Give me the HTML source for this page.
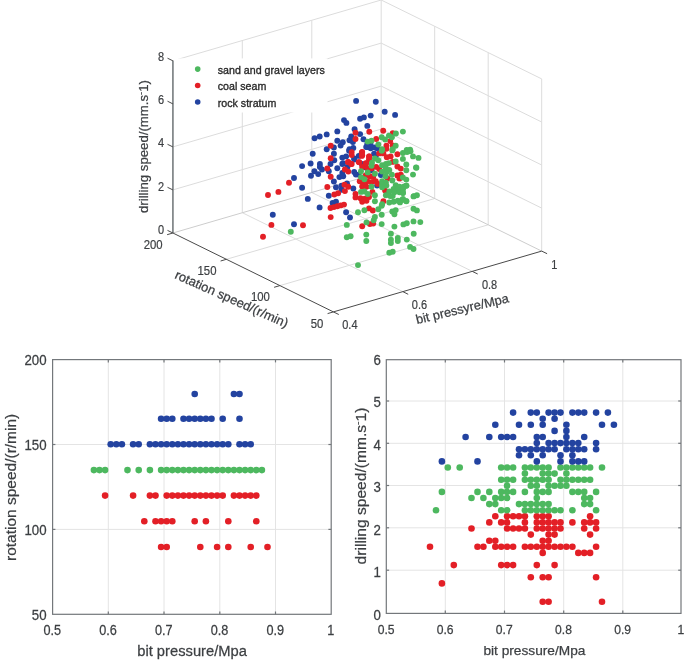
<!DOCTYPE html>
<html><head><meta charset="utf-8"><title>figure</title>
<style>html,body{margin:0;padding:0;background:#fff}svg{display:block}text{font-family:"Liberation Sans",sans-serif}</style>
</head><body>
<svg width="685" height="660" viewBox="0 0 685 660">
<rect width="685" height="660" fill="#ffffff"/>
<line x1="108.3" y1="359.6" x2="108.3" y2="614.3" stroke="#e4e4e4" stroke-width="1"/>
<line x1="164.0" y1="359.6" x2="164.0" y2="614.3" stroke="#e4e4e4" stroke-width="1"/>
<line x1="219.8" y1="359.6" x2="219.8" y2="614.3" stroke="#e4e4e4" stroke-width="1"/>
<line x1="275.5" y1="359.6" x2="275.5" y2="614.3" stroke="#e4e4e4" stroke-width="1"/>
<line x1="52.6" y1="529.4" x2="331.2" y2="529.4" stroke="#e4e4e4" stroke-width="1"/>
<line x1="52.6" y1="444.5" x2="331.2" y2="444.5" stroke="#e4e4e4" stroke-width="1"/>
<circle cx="194.7" cy="394.0" r="3.3" fill="#2343a0"/>
<circle cx="233.9" cy="394.0" r="3.3" fill="#2343a0"/>
<circle cx="239.5" cy="394.0" r="3.3" fill="#2343a0"/>
<circle cx="161.1" cy="418.8" r="3.3" fill="#2343a0"/>
<circle cx="166.7" cy="418.8" r="3.3" fill="#2343a0"/>
<circle cx="172.3" cy="418.8" r="3.3" fill="#2343a0"/>
<circle cx="183.5" cy="418.8" r="3.3" fill="#2343a0"/>
<circle cx="189.1" cy="418.8" r="3.3" fill="#2343a0"/>
<circle cx="194.7" cy="418.8" r="3.3" fill="#2343a0"/>
<circle cx="200.3" cy="418.8" r="3.3" fill="#2343a0"/>
<circle cx="205.9" cy="418.8" r="3.3" fill="#2343a0"/>
<circle cx="211.5" cy="418.8" r="3.3" fill="#2343a0"/>
<circle cx="222.7" cy="418.8" r="3.3" fill="#2343a0"/>
<circle cx="239.5" cy="418.8" r="3.3" fill="#2343a0"/>
<circle cx="110.7" cy="444.3" r="3.3" fill="#2343a0"/>
<circle cx="116.3" cy="444.3" r="3.3" fill="#2343a0"/>
<circle cx="121.9" cy="444.3" r="3.3" fill="#2343a0"/>
<circle cx="133.1" cy="444.3" r="3.3" fill="#2343a0"/>
<circle cx="138.7" cy="444.3" r="3.3" fill="#2343a0"/>
<circle cx="149.9" cy="444.3" r="3.3" fill="#2343a0"/>
<circle cx="155.5" cy="444.3" r="3.3" fill="#2343a0"/>
<circle cx="161.1" cy="444.3" r="3.3" fill="#2343a0"/>
<circle cx="166.7" cy="444.3" r="3.3" fill="#2343a0"/>
<circle cx="172.3" cy="444.3" r="3.3" fill="#2343a0"/>
<circle cx="177.9" cy="444.3" r="3.3" fill="#2343a0"/>
<circle cx="183.5" cy="444.3" r="3.3" fill="#2343a0"/>
<circle cx="189.1" cy="444.3" r="3.3" fill="#2343a0"/>
<circle cx="194.7" cy="444.3" r="3.3" fill="#2343a0"/>
<circle cx="200.3" cy="444.3" r="3.3" fill="#2343a0"/>
<circle cx="205.9" cy="444.3" r="3.3" fill="#2343a0"/>
<circle cx="211.5" cy="444.3" r="3.3" fill="#2343a0"/>
<circle cx="217.1" cy="444.3" r="3.3" fill="#2343a0"/>
<circle cx="222.7" cy="444.3" r="3.3" fill="#2343a0"/>
<circle cx="228.3" cy="444.3" r="3.3" fill="#2343a0"/>
<circle cx="239.5" cy="444.3" r="3.3" fill="#2343a0"/>
<circle cx="245.1" cy="444.3" r="3.3" fill="#2343a0"/>
<circle cx="250.7" cy="444.3" r="3.3" fill="#2343a0"/>
<circle cx="93.9" cy="470.1" r="3.3" fill="#4db85f"/>
<circle cx="99.5" cy="470.1" r="3.3" fill="#4db85f"/>
<circle cx="105.1" cy="470.1" r="3.3" fill="#4db85f"/>
<circle cx="127.5" cy="470.1" r="3.3" fill="#4db85f"/>
<circle cx="138.7" cy="470.1" r="3.3" fill="#4db85f"/>
<circle cx="149.9" cy="470.1" r="3.3" fill="#4db85f"/>
<circle cx="161.1" cy="470.1" r="3.3" fill="#4db85f"/>
<circle cx="166.7" cy="470.1" r="3.3" fill="#4db85f"/>
<circle cx="172.3" cy="470.1" r="3.3" fill="#4db85f"/>
<circle cx="177.9" cy="470.1" r="3.3" fill="#4db85f"/>
<circle cx="183.5" cy="470.1" r="3.3" fill="#4db85f"/>
<circle cx="189.1" cy="470.1" r="3.3" fill="#4db85f"/>
<circle cx="194.7" cy="470.1" r="3.3" fill="#4db85f"/>
<circle cx="200.3" cy="470.1" r="3.3" fill="#4db85f"/>
<circle cx="205.9" cy="470.1" r="3.3" fill="#4db85f"/>
<circle cx="211.5" cy="470.1" r="3.3" fill="#4db85f"/>
<circle cx="217.1" cy="470.1" r="3.3" fill="#4db85f"/>
<circle cx="222.7" cy="470.1" r="3.3" fill="#4db85f"/>
<circle cx="228.3" cy="470.1" r="3.3" fill="#4db85f"/>
<circle cx="233.9" cy="470.1" r="3.3" fill="#4db85f"/>
<circle cx="239.5" cy="470.1" r="3.3" fill="#4db85f"/>
<circle cx="245.1" cy="470.1" r="3.3" fill="#4db85f"/>
<circle cx="250.7" cy="470.1" r="3.3" fill="#4db85f"/>
<circle cx="256.3" cy="470.1" r="3.3" fill="#4db85f"/>
<circle cx="261.9" cy="470.1" r="3.3" fill="#4db85f"/>
<circle cx="105.1" cy="495.6" r="3.3" fill="#e31f26"/>
<circle cx="133.1" cy="495.6" r="3.3" fill="#e31f26"/>
<circle cx="149.9" cy="495.6" r="3.3" fill="#e31f26"/>
<circle cx="155.5" cy="495.6" r="3.3" fill="#e31f26"/>
<circle cx="166.7" cy="495.6" r="3.3" fill="#e31f26"/>
<circle cx="172.3" cy="495.6" r="3.3" fill="#e31f26"/>
<circle cx="177.9" cy="495.6" r="3.3" fill="#e31f26"/>
<circle cx="183.5" cy="495.6" r="3.3" fill="#e31f26"/>
<circle cx="189.1" cy="495.6" r="3.3" fill="#e31f26"/>
<circle cx="194.7" cy="495.6" r="3.3" fill="#e31f26"/>
<circle cx="200.3" cy="495.6" r="3.3" fill="#e31f26"/>
<circle cx="205.9" cy="495.6" r="3.3" fill="#e31f26"/>
<circle cx="211.5" cy="495.6" r="3.3" fill="#e31f26"/>
<circle cx="217.1" cy="495.6" r="3.3" fill="#e31f26"/>
<circle cx="222.7" cy="495.6" r="3.3" fill="#e31f26"/>
<circle cx="233.9" cy="495.6" r="3.3" fill="#e31f26"/>
<circle cx="239.5" cy="495.6" r="3.3" fill="#e31f26"/>
<circle cx="245.1" cy="495.6" r="3.3" fill="#e31f26"/>
<circle cx="250.7" cy="495.6" r="3.3" fill="#e31f26"/>
<circle cx="256.3" cy="495.6" r="3.3" fill="#e31f26"/>
<circle cx="144.3" cy="521.2" r="3.3" fill="#e31f26"/>
<circle cx="155.5" cy="521.2" r="3.3" fill="#e31f26"/>
<circle cx="161.1" cy="521.2" r="3.3" fill="#e31f26"/>
<circle cx="166.7" cy="521.2" r="3.3" fill="#e31f26"/>
<circle cx="172.3" cy="521.2" r="3.3" fill="#e31f26"/>
<circle cx="194.7" cy="521.2" r="3.3" fill="#e31f26"/>
<circle cx="205.9" cy="521.2" r="3.3" fill="#e31f26"/>
<circle cx="228.3" cy="521.2" r="3.3" fill="#e31f26"/>
<circle cx="256.3" cy="521.2" r="3.3" fill="#e31f26"/>
<circle cx="161.1" cy="547.0" r="3.3" fill="#e31f26"/>
<circle cx="166.7" cy="547.0" r="3.3" fill="#e31f26"/>
<circle cx="200.3" cy="547.0" r="3.3" fill="#e31f26"/>
<circle cx="217.1" cy="547.0" r="3.3" fill="#e31f26"/>
<circle cx="228.3" cy="547.0" r="3.3" fill="#e31f26"/>
<circle cx="250.7" cy="547.0" r="3.3" fill="#e31f26"/>
<circle cx="267.5" cy="547.0" r="3.3" fill="#e31f26"/>
<rect x="52.6" y="359.6" width="278.6" height="254.7" fill="none" stroke="#73777b" stroke-width="1.2"/>
<line x1="108.3" y1="614.3" x2="108.3" y2="611.5" stroke="#73777b" stroke-width="1.2"/>
<line x1="108.3" y1="359.6" x2="108.3" y2="362.40000000000003" stroke="#73777b" stroke-width="1.2"/>
<line x1="164.0" y1="614.3" x2="164.0" y2="611.5" stroke="#73777b" stroke-width="1.2"/>
<line x1="164.0" y1="359.6" x2="164.0" y2="362.40000000000003" stroke="#73777b" stroke-width="1.2"/>
<line x1="219.8" y1="614.3" x2="219.8" y2="611.5" stroke="#73777b" stroke-width="1.2"/>
<line x1="219.8" y1="359.6" x2="219.8" y2="362.40000000000003" stroke="#73777b" stroke-width="1.2"/>
<line x1="275.5" y1="614.3" x2="275.5" y2="611.5" stroke="#73777b" stroke-width="1.2"/>
<line x1="275.5" y1="359.6" x2="275.5" y2="362.40000000000003" stroke="#73777b" stroke-width="1.2"/>
<line x1="52.6" y1="529.4" x2="55.4" y2="529.4" stroke="#73777b" stroke-width="1.2"/>
<line x1="331.2" y1="529.4" x2="328.4" y2="529.4" stroke="#73777b" stroke-width="1.2"/>
<line x1="52.6" y1="444.5" x2="55.4" y2="444.5" stroke="#73777b" stroke-width="1.2"/>
<line x1="331.2" y1="444.5" x2="328.4" y2="444.5" stroke="#73777b" stroke-width="1.2"/>
<text transform="translate(52.3,634.6) scale(0.92,1)" font-size="13.8" text-anchor="middle" fill="#3c3f42" stroke="#3c3f42" stroke-width="0.25">0.5</text>
<text transform="translate(108.0,634.6) scale(0.92,1)" font-size="13.8" text-anchor="middle" fill="#3c3f42" stroke="#3c3f42" stroke-width="0.25">0.6</text>
<text transform="translate(163.7,634.6) scale(0.92,1)" font-size="13.8" text-anchor="middle" fill="#3c3f42" stroke="#3c3f42" stroke-width="0.25">0.7</text>
<text transform="translate(219.5,634.6) scale(0.92,1)" font-size="13.8" text-anchor="middle" fill="#3c3f42" stroke="#3c3f42" stroke-width="0.25">0.8</text>
<text transform="translate(275.2,634.6) scale(0.92,1)" font-size="13.8" text-anchor="middle" fill="#3c3f42" stroke="#3c3f42" stroke-width="0.25">0.9</text>
<text transform="translate(330.9,634.6) scale(0.92,1)" font-size="13.8" text-anchor="middle" fill="#3c3f42" stroke="#3c3f42" stroke-width="0.25">1</text>
<text transform="translate(46.5,619.8) scale(0.96,1)" font-size="13.8" text-anchor="end" fill="#3c3f42" stroke="#3c3f42" stroke-width="0.25">50</text>
<text transform="translate(46.5,534.9) scale(0.96,1)" font-size="13.8" text-anchor="end" fill="#3c3f42" stroke="#3c3f42" stroke-width="0.25">100</text>
<text transform="translate(46.5,450.0) scale(0.96,1)" font-size="13.8" text-anchor="end" fill="#3c3f42" stroke="#3c3f42" stroke-width="0.25">150</text>
<text transform="translate(46.5,365.1) scale(0.96,1)" font-size="13.8" text-anchor="end" fill="#3c3f42" stroke="#3c3f42" stroke-width="0.25">200</text>
<text transform="translate(192.1,655.9) scale(0.964,1)" font-size="15.3" text-anchor="middle" fill="#3c3f42" stroke="#3c3f42" stroke-width="0.25">bit pressure/Mpa</text>
<text transform="translate(16.2,487.4) rotate(-90) scale(1,0.9)" font-size="15.5" text-anchor="middle" fill="#3c3f42" stroke="#3c3f42" stroke-width="0.25">rotation speed/(r/min)</text>
<line x1="445.3" y1="359.7" x2="445.3" y2="613.4" stroke="#e4e4e4" stroke-width="1"/>
<line x1="504.5" y1="359.7" x2="504.5" y2="613.4" stroke="#e4e4e4" stroke-width="1"/>
<line x1="563.7" y1="359.7" x2="563.7" y2="613.4" stroke="#e4e4e4" stroke-width="1"/>
<line x1="622.8" y1="359.7" x2="622.8" y2="613.4" stroke="#e4e4e4" stroke-width="1"/>
<line x1="386.3" y1="570.2" x2="681.0" y2="570.2" stroke="#e4e4e4" stroke-width="1"/>
<line x1="386.3" y1="527.8" x2="681.0" y2="527.8" stroke="#e4e4e4" stroke-width="1"/>
<line x1="386.3" y1="485.5" x2="681.0" y2="485.5" stroke="#e4e4e4" stroke-width="1"/>
<line x1="386.3" y1="443.3" x2="681.0" y2="443.3" stroke="#e4e4e4" stroke-width="1"/>
<line x1="386.3" y1="401.0" x2="681.0" y2="401.0" stroke="#e4e4e4" stroke-width="1"/>
<circle cx="542.7" cy="601.7" r="3.3" fill="#e31f26"/>
<circle cx="548.6" cy="601.7" r="3.3" fill="#e31f26"/>
<circle cx="602.0" cy="601.7" r="3.3" fill="#e31f26"/>
<circle cx="441.9" cy="583.4" r="3.3" fill="#e31f26"/>
<circle cx="530.8" cy="577.3" r="3.3" fill="#e31f26"/>
<circle cx="542.7" cy="577.3" r="3.3" fill="#e31f26"/>
<circle cx="548.6" cy="577.3" r="3.3" fill="#e31f26"/>
<circle cx="596.1" cy="577.3" r="3.3" fill="#e31f26"/>
<circle cx="453.8" cy="565.1" r="3.3" fill="#e31f26"/>
<circle cx="501.2" cy="565.1" r="3.3" fill="#e31f26"/>
<circle cx="507.1" cy="565.1" r="3.3" fill="#e31f26"/>
<circle cx="513.1" cy="565.1" r="3.3" fill="#e31f26"/>
<circle cx="536.8" cy="565.1" r="3.3" fill="#e31f26"/>
<circle cx="554.6" cy="565.1" r="3.3" fill="#e31f26"/>
<circle cx="542.7" cy="552.9" r="3.3" fill="#e31f26"/>
<circle cx="578.3" cy="552.9" r="3.3" fill="#e31f26"/>
<circle cx="584.2" cy="552.9" r="3.3" fill="#e31f26"/>
<circle cx="590.1" cy="552.9" r="3.3" fill="#e31f26"/>
<circle cx="430.0" cy="546.8" r="3.3" fill="#e31f26"/>
<circle cx="477.5" cy="546.8" r="3.3" fill="#e31f26"/>
<circle cx="483.4" cy="546.8" r="3.3" fill="#e31f26"/>
<circle cx="495.3" cy="546.8" r="3.3" fill="#e31f26"/>
<circle cx="501.2" cy="546.8" r="3.3" fill="#e31f26"/>
<circle cx="507.1" cy="546.8" r="3.3" fill="#e31f26"/>
<circle cx="513.1" cy="546.8" r="3.3" fill="#e31f26"/>
<circle cx="524.9" cy="546.8" r="3.3" fill="#e31f26"/>
<circle cx="530.8" cy="546.8" r="3.3" fill="#e31f26"/>
<circle cx="536.8" cy="546.8" r="3.3" fill="#e31f26"/>
<circle cx="542.7" cy="546.8" r="3.3" fill="#e31f26"/>
<circle cx="548.6" cy="546.8" r="3.3" fill="#e31f26"/>
<circle cx="554.6" cy="546.8" r="3.3" fill="#e31f26"/>
<circle cx="560.5" cy="546.8" r="3.3" fill="#e31f26"/>
<circle cx="566.4" cy="546.8" r="3.3" fill="#e31f26"/>
<circle cx="572.4" cy="546.8" r="3.3" fill="#e31f26"/>
<circle cx="596.1" cy="546.8" r="3.3" fill="#e31f26"/>
<circle cx="489.3" cy="540.7" r="3.3" fill="#e31f26"/>
<circle cx="495.3" cy="540.7" r="3.3" fill="#e31f26"/>
<circle cx="542.7" cy="540.7" r="3.3" fill="#e31f26"/>
<circle cx="548.6" cy="540.7" r="3.3" fill="#e31f26"/>
<circle cx="530.8" cy="534.6" r="3.3" fill="#e31f26"/>
<circle cx="548.6" cy="534.6" r="3.3" fill="#e31f26"/>
<circle cx="554.6" cy="534.6" r="3.3" fill="#e31f26"/>
<circle cx="590.1" cy="534.6" r="3.3" fill="#e31f26"/>
<circle cx="471.5" cy="528.5" r="3.3" fill="#e31f26"/>
<circle cx="507.1" cy="528.5" r="3.3" fill="#e31f26"/>
<circle cx="513.1" cy="528.5" r="3.3" fill="#e31f26"/>
<circle cx="519.0" cy="528.5" r="3.3" fill="#e31f26"/>
<circle cx="524.9" cy="528.5" r="3.3" fill="#e31f26"/>
<circle cx="536.8" cy="528.5" r="3.3" fill="#e31f26"/>
<circle cx="542.7" cy="528.5" r="3.3" fill="#e31f26"/>
<circle cx="548.6" cy="528.5" r="3.3" fill="#e31f26"/>
<circle cx="554.6" cy="528.5" r="3.3" fill="#e31f26"/>
<circle cx="560.5" cy="528.5" r="3.3" fill="#e31f26"/>
<circle cx="584.2" cy="528.5" r="3.3" fill="#e31f26"/>
<circle cx="596.1" cy="528.5" r="3.3" fill="#e31f26"/>
<circle cx="489.3" cy="522.4" r="3.3" fill="#e31f26"/>
<circle cx="501.2" cy="522.4" r="3.3" fill="#e31f26"/>
<circle cx="507.1" cy="522.4" r="3.3" fill="#e31f26"/>
<circle cx="524.9" cy="522.4" r="3.3" fill="#e31f26"/>
<circle cx="536.8" cy="522.4" r="3.3" fill="#e31f26"/>
<circle cx="542.7" cy="522.4" r="3.3" fill="#e31f26"/>
<circle cx="548.6" cy="522.4" r="3.3" fill="#e31f26"/>
<circle cx="554.6" cy="522.4" r="3.3" fill="#e31f26"/>
<circle cx="560.5" cy="522.4" r="3.3" fill="#e31f26"/>
<circle cx="572.4" cy="522.4" r="3.3" fill="#e31f26"/>
<circle cx="584.2" cy="522.4" r="3.3" fill="#e31f26"/>
<circle cx="590.1" cy="522.4" r="3.3" fill="#e31f26"/>
<circle cx="596.1" cy="522.4" r="3.3" fill="#e31f26"/>
<circle cx="495.3" cy="516.3" r="3.3" fill="#e31f26"/>
<circle cx="507.1" cy="516.3" r="3.3" fill="#e31f26"/>
<circle cx="513.1" cy="516.3" r="3.3" fill="#e31f26"/>
<circle cx="519.0" cy="516.3" r="3.3" fill="#e31f26"/>
<circle cx="524.9" cy="516.3" r="3.3" fill="#e31f26"/>
<circle cx="536.8" cy="516.3" r="3.3" fill="#e31f26"/>
<circle cx="542.7" cy="516.3" r="3.3" fill="#e31f26"/>
<circle cx="548.6" cy="516.3" r="3.3" fill="#e31f26"/>
<circle cx="590.1" cy="516.3" r="3.3" fill="#e31f26"/>
<circle cx="436.0" cy="510.2" r="3.3" fill="#4db85f"/>
<circle cx="501.2" cy="510.2" r="3.3" fill="#4db85f"/>
<circle cx="507.1" cy="510.2" r="3.3" fill="#4db85f"/>
<circle cx="524.9" cy="510.2" r="3.3" fill="#4db85f"/>
<circle cx="530.8" cy="510.2" r="3.3" fill="#4db85f"/>
<circle cx="536.8" cy="510.2" r="3.3" fill="#4db85f"/>
<circle cx="542.7" cy="510.2" r="3.3" fill="#4db85f"/>
<circle cx="548.6" cy="510.2" r="3.3" fill="#4db85f"/>
<circle cx="554.6" cy="510.2" r="3.3" fill="#4db85f"/>
<circle cx="560.5" cy="510.2" r="3.3" fill="#4db85f"/>
<circle cx="572.4" cy="510.2" r="3.3" fill="#4db85f"/>
<circle cx="596.1" cy="510.2" r="3.3" fill="#4db85f"/>
<circle cx="489.3" cy="504.1" r="3.3" fill="#4db85f"/>
<circle cx="495.3" cy="504.1" r="3.3" fill="#4db85f"/>
<circle cx="519.0" cy="504.1" r="3.3" fill="#4db85f"/>
<circle cx="524.9" cy="504.1" r="3.3" fill="#4db85f"/>
<circle cx="530.8" cy="504.1" r="3.3" fill="#4db85f"/>
<circle cx="536.8" cy="504.1" r="3.3" fill="#4db85f"/>
<circle cx="542.7" cy="504.1" r="3.3" fill="#4db85f"/>
<circle cx="548.6" cy="504.1" r="3.3" fill="#4db85f"/>
<circle cx="584.2" cy="504.1" r="3.3" fill="#4db85f"/>
<circle cx="590.1" cy="504.1" r="3.3" fill="#4db85f"/>
<circle cx="471.5" cy="498.0" r="3.3" fill="#4db85f"/>
<circle cx="483.4" cy="498.0" r="3.3" fill="#4db85f"/>
<circle cx="495.3" cy="498.0" r="3.3" fill="#4db85f"/>
<circle cx="501.2" cy="498.0" r="3.3" fill="#4db85f"/>
<circle cx="507.1" cy="498.0" r="3.3" fill="#4db85f"/>
<circle cx="536.8" cy="498.0" r="3.3" fill="#4db85f"/>
<circle cx="584.2" cy="498.0" r="3.3" fill="#4db85f"/>
<circle cx="590.1" cy="498.0" r="3.3" fill="#4db85f"/>
<circle cx="441.9" cy="491.9" r="3.3" fill="#4db85f"/>
<circle cx="477.5" cy="491.9" r="3.3" fill="#4db85f"/>
<circle cx="489.3" cy="491.9" r="3.3" fill="#4db85f"/>
<circle cx="501.2" cy="491.9" r="3.3" fill="#4db85f"/>
<circle cx="507.1" cy="491.9" r="3.3" fill="#4db85f"/>
<circle cx="513.1" cy="491.9" r="3.3" fill="#4db85f"/>
<circle cx="524.9" cy="491.9" r="3.3" fill="#4db85f"/>
<circle cx="536.8" cy="491.9" r="3.3" fill="#4db85f"/>
<circle cx="542.7" cy="491.9" r="3.3" fill="#4db85f"/>
<circle cx="548.6" cy="491.9" r="3.3" fill="#4db85f"/>
<circle cx="572.4" cy="491.9" r="3.3" fill="#4db85f"/>
<circle cx="578.3" cy="491.9" r="3.3" fill="#4db85f"/>
<circle cx="584.2" cy="491.9" r="3.3" fill="#4db85f"/>
<circle cx="596.1" cy="491.9" r="3.3" fill="#4db85f"/>
<circle cx="507.1" cy="485.8" r="3.3" fill="#4db85f"/>
<circle cx="530.8" cy="485.8" r="3.3" fill="#4db85f"/>
<circle cx="536.8" cy="485.8" r="3.3" fill="#4db85f"/>
<circle cx="548.6" cy="485.8" r="3.3" fill="#4db85f"/>
<circle cx="554.6" cy="485.8" r="3.3" fill="#4db85f"/>
<circle cx="560.5" cy="485.8" r="3.3" fill="#4db85f"/>
<circle cx="566.4" cy="485.8" r="3.3" fill="#4db85f"/>
<circle cx="501.2" cy="479.7" r="3.3" fill="#4db85f"/>
<circle cx="507.1" cy="479.7" r="3.3" fill="#4db85f"/>
<circle cx="513.1" cy="479.7" r="3.3" fill="#4db85f"/>
<circle cx="524.9" cy="479.7" r="3.3" fill="#4db85f"/>
<circle cx="530.8" cy="479.7" r="3.3" fill="#4db85f"/>
<circle cx="536.8" cy="479.7" r="3.3" fill="#4db85f"/>
<circle cx="542.7" cy="479.7" r="3.3" fill="#4db85f"/>
<circle cx="548.6" cy="479.7" r="3.3" fill="#4db85f"/>
<circle cx="560.5" cy="479.7" r="3.3" fill="#4db85f"/>
<circle cx="566.4" cy="479.7" r="3.3" fill="#4db85f"/>
<circle cx="572.4" cy="479.7" r="3.3" fill="#4db85f"/>
<circle cx="578.3" cy="479.7" r="3.3" fill="#4db85f"/>
<circle cx="584.2" cy="479.7" r="3.3" fill="#4db85f"/>
<circle cx="590.1" cy="479.7" r="3.3" fill="#4db85f"/>
<circle cx="524.9" cy="473.6" r="3.3" fill="#4db85f"/>
<circle cx="542.7" cy="473.6" r="3.3" fill="#4db85f"/>
<circle cx="548.6" cy="473.6" r="3.3" fill="#4db85f"/>
<circle cx="554.6" cy="473.6" r="3.3" fill="#4db85f"/>
<circle cx="566.4" cy="473.6" r="3.3" fill="#4db85f"/>
<circle cx="447.8" cy="467.5" r="3.3" fill="#4db85f"/>
<circle cx="459.7" cy="467.5" r="3.3" fill="#4db85f"/>
<circle cx="501.2" cy="467.5" r="3.3" fill="#4db85f"/>
<circle cx="507.1" cy="467.5" r="3.3" fill="#4db85f"/>
<circle cx="513.1" cy="467.5" r="3.3" fill="#4db85f"/>
<circle cx="524.9" cy="467.5" r="3.3" fill="#4db85f"/>
<circle cx="530.8" cy="467.5" r="3.3" fill="#4db85f"/>
<circle cx="536.8" cy="467.5" r="3.3" fill="#4db85f"/>
<circle cx="542.7" cy="467.5" r="3.3" fill="#4db85f"/>
<circle cx="548.6" cy="467.5" r="3.3" fill="#4db85f"/>
<circle cx="560.5" cy="467.5" r="3.3" fill="#4db85f"/>
<circle cx="566.4" cy="467.5" r="3.3" fill="#4db85f"/>
<circle cx="572.4" cy="467.5" r="3.3" fill="#4db85f"/>
<circle cx="578.3" cy="467.5" r="3.3" fill="#4db85f"/>
<circle cx="584.2" cy="467.5" r="3.3" fill="#4db85f"/>
<circle cx="590.1" cy="467.5" r="3.3" fill="#4db85f"/>
<circle cx="602.0" cy="467.5" r="3.3" fill="#4db85f"/>
<circle cx="441.9" cy="461.4" r="3.3" fill="#2343a0"/>
<circle cx="477.5" cy="461.4" r="3.3" fill="#2343a0"/>
<circle cx="536.8" cy="461.4" r="3.3" fill="#2343a0"/>
<circle cx="560.5" cy="461.4" r="3.3" fill="#2343a0"/>
<circle cx="572.4" cy="461.4" r="3.3" fill="#2343a0"/>
<circle cx="578.3" cy="461.4" r="3.3" fill="#2343a0"/>
<circle cx="584.2" cy="461.4" r="3.3" fill="#2343a0"/>
<circle cx="519.0" cy="455.3" r="3.3" fill="#2343a0"/>
<circle cx="530.8" cy="455.3" r="3.3" fill="#2343a0"/>
<circle cx="542.7" cy="455.3" r="3.3" fill="#2343a0"/>
<circle cx="560.5" cy="455.3" r="3.3" fill="#2343a0"/>
<circle cx="572.4" cy="455.3" r="3.3" fill="#2343a0"/>
<circle cx="519.0" cy="449.2" r="3.3" fill="#2343a0"/>
<circle cx="524.9" cy="449.2" r="3.3" fill="#2343a0"/>
<circle cx="530.8" cy="449.2" r="3.3" fill="#2343a0"/>
<circle cx="536.8" cy="449.2" r="3.3" fill="#2343a0"/>
<circle cx="542.7" cy="449.2" r="3.3" fill="#2343a0"/>
<circle cx="548.6" cy="449.2" r="3.3" fill="#2343a0"/>
<circle cx="554.6" cy="449.2" r="3.3" fill="#2343a0"/>
<circle cx="566.4" cy="449.2" r="3.3" fill="#2343a0"/>
<circle cx="572.4" cy="449.2" r="3.3" fill="#2343a0"/>
<circle cx="578.3" cy="449.2" r="3.3" fill="#2343a0"/>
<circle cx="584.2" cy="449.2" r="3.3" fill="#2343a0"/>
<circle cx="596.1" cy="449.2" r="3.3" fill="#2343a0"/>
<circle cx="536.8" cy="443.1" r="3.3" fill="#2343a0"/>
<circle cx="548.6" cy="443.1" r="3.3" fill="#2343a0"/>
<circle cx="554.6" cy="443.1" r="3.3" fill="#2343a0"/>
<circle cx="560.5" cy="443.1" r="3.3" fill="#2343a0"/>
<circle cx="566.4" cy="443.1" r="3.3" fill="#2343a0"/>
<circle cx="572.4" cy="443.1" r="3.3" fill="#2343a0"/>
<circle cx="578.3" cy="443.1" r="3.3" fill="#2343a0"/>
<circle cx="596.1" cy="443.1" r="3.3" fill="#2343a0"/>
<circle cx="465.6" cy="437.0" r="3.3" fill="#2343a0"/>
<circle cx="489.3" cy="437.0" r="3.3" fill="#2343a0"/>
<circle cx="501.2" cy="437.0" r="3.3" fill="#2343a0"/>
<circle cx="507.1" cy="437.0" r="3.3" fill="#2343a0"/>
<circle cx="513.1" cy="437.0" r="3.3" fill="#2343a0"/>
<circle cx="536.8" cy="437.0" r="3.3" fill="#2343a0"/>
<circle cx="542.7" cy="437.0" r="3.3" fill="#2343a0"/>
<circle cx="566.4" cy="437.0" r="3.3" fill="#2343a0"/>
<circle cx="584.2" cy="437.0" r="3.3" fill="#2343a0"/>
<circle cx="554.6" cy="430.9" r="3.3" fill="#2343a0"/>
<circle cx="566.4" cy="430.9" r="3.3" fill="#2343a0"/>
<circle cx="495.3" cy="424.8" r="3.3" fill="#2343a0"/>
<circle cx="519.0" cy="424.8" r="3.3" fill="#2343a0"/>
<circle cx="530.8" cy="424.8" r="3.3" fill="#2343a0"/>
<circle cx="542.7" cy="424.8" r="3.3" fill="#2343a0"/>
<circle cx="566.4" cy="424.8" r="3.3" fill="#2343a0"/>
<circle cx="602.0" cy="424.8" r="3.3" fill="#2343a0"/>
<circle cx="613.9" cy="424.8" r="3.3" fill="#2343a0"/>
<circle cx="542.7" cy="418.7" r="3.3" fill="#2343a0"/>
<circle cx="554.6" cy="418.7" r="3.3" fill="#2343a0"/>
<circle cx="513.1" cy="412.6" r="3.3" fill="#2343a0"/>
<circle cx="530.8" cy="412.6" r="3.3" fill="#2343a0"/>
<circle cx="536.8" cy="412.6" r="3.3" fill="#2343a0"/>
<circle cx="548.6" cy="412.6" r="3.3" fill="#2343a0"/>
<circle cx="554.6" cy="412.6" r="3.3" fill="#2343a0"/>
<circle cx="560.5" cy="412.6" r="3.3" fill="#2343a0"/>
<circle cx="572.4" cy="412.6" r="3.3" fill="#2343a0"/>
<circle cx="578.3" cy="412.6" r="3.3" fill="#2343a0"/>
<circle cx="584.2" cy="412.6" r="3.3" fill="#2343a0"/>
<circle cx="596.1" cy="412.6" r="3.3" fill="#2343a0"/>
<circle cx="607.9" cy="412.6" r="3.3" fill="#2343a0"/>
<rect x="386.3" y="359.7" width="294.7" height="253.7" fill="none" stroke="#73777b" stroke-width="1.2"/>
<line x1="445.3" y1="613.4" x2="445.3" y2="610.6" stroke="#73777b" stroke-width="1.2"/>
<line x1="445.3" y1="359.7" x2="445.3" y2="362.5" stroke="#73777b" stroke-width="1.2"/>
<line x1="504.5" y1="613.4" x2="504.5" y2="610.6" stroke="#73777b" stroke-width="1.2"/>
<line x1="504.5" y1="359.7" x2="504.5" y2="362.5" stroke="#73777b" stroke-width="1.2"/>
<line x1="563.7" y1="613.4" x2="563.7" y2="610.6" stroke="#73777b" stroke-width="1.2"/>
<line x1="563.7" y1="359.7" x2="563.7" y2="362.5" stroke="#73777b" stroke-width="1.2"/>
<line x1="622.8" y1="613.4" x2="622.8" y2="610.6" stroke="#73777b" stroke-width="1.2"/>
<line x1="622.8" y1="359.7" x2="622.8" y2="362.5" stroke="#73777b" stroke-width="1.2"/>
<line x1="386.3" y1="570.2" x2="389.1" y2="570.2" stroke="#73777b" stroke-width="1.2"/>
<line x1="681.0" y1="570.2" x2="678.2" y2="570.2" stroke="#73777b" stroke-width="1.2"/>
<line x1="386.3" y1="527.8" x2="389.1" y2="527.8" stroke="#73777b" stroke-width="1.2"/>
<line x1="681.0" y1="527.8" x2="678.2" y2="527.8" stroke="#73777b" stroke-width="1.2"/>
<line x1="386.3" y1="485.5" x2="389.1" y2="485.5" stroke="#73777b" stroke-width="1.2"/>
<line x1="681.0" y1="485.5" x2="678.2" y2="485.5" stroke="#73777b" stroke-width="1.2"/>
<line x1="386.3" y1="443.3" x2="389.1" y2="443.3" stroke="#73777b" stroke-width="1.2"/>
<line x1="681.0" y1="443.3" x2="678.2" y2="443.3" stroke="#73777b" stroke-width="1.2"/>
<line x1="386.3" y1="401.0" x2="389.1" y2="401.0" stroke="#73777b" stroke-width="1.2"/>
<line x1="681.0" y1="401.0" x2="678.2" y2="401.0" stroke="#73777b" stroke-width="1.2"/>
<text transform="translate(386.1,633.7) scale(0.92,1)" font-size="13.2" text-anchor="middle" fill="#3c3f42" stroke="#3c3f42" stroke-width="0.25">0.5</text>
<text transform="translate(445.1,633.7) scale(0.92,1)" font-size="13.2" text-anchor="middle" fill="#3c3f42" stroke="#3c3f42" stroke-width="0.25">0.6</text>
<text transform="translate(504.3,633.7) scale(0.92,1)" font-size="13.2" text-anchor="middle" fill="#3c3f42" stroke="#3c3f42" stroke-width="0.25">0.7</text>
<text transform="translate(563.5,633.7) scale(0.92,1)" font-size="13.2" text-anchor="middle" fill="#3c3f42" stroke="#3c3f42" stroke-width="0.25">0.8</text>
<text transform="translate(622.6,633.7) scale(0.92,1)" font-size="13.2" text-anchor="middle" fill="#3c3f42" stroke="#3c3f42" stroke-width="0.25">0.9</text>
<text transform="translate(680.8,633.7) scale(0.92,1)" font-size="13.2" text-anchor="middle" fill="#3c3f42" stroke="#3c3f42" stroke-width="0.25">1</text>
<text transform="translate(381.0,619.6) scale(0.96,1)" font-size="13.8" text-anchor="end" fill="#3c3f42" stroke="#3c3f42" stroke-width="0.25">0</text>
<text transform="translate(381.0,577.1) scale(0.96,1)" font-size="13.8" text-anchor="end" fill="#3c3f42" stroke="#3c3f42" stroke-width="0.25">1</text>
<text transform="translate(381.0,534.6) scale(0.96,1)" font-size="13.8" text-anchor="end" fill="#3c3f42" stroke="#3c3f42" stroke-width="0.25">2</text>
<text transform="translate(381.0,492.1) scale(0.96,1)" font-size="13.8" text-anchor="end" fill="#3c3f42" stroke="#3c3f42" stroke-width="0.25">3</text>
<text transform="translate(381.0,449.6) scale(0.96,1)" font-size="13.8" text-anchor="end" fill="#3c3f42" stroke="#3c3f42" stroke-width="0.25">4</text>
<text transform="translate(381.0,407.1) scale(0.96,1)" font-size="13.8" text-anchor="end" fill="#3c3f42" stroke="#3c3f42" stroke-width="0.25">5</text>
<text transform="translate(381.0,364.6) scale(0.96,1)" font-size="13.8" text-anchor="end" fill="#3c3f42" stroke="#3c3f42" stroke-width="0.25">6</text>
<text transform="translate(534.4,655.1) scale(1.0,1)" font-size="13.7" text-anchor="middle" fill="#3c3f42" stroke="#3c3f42" stroke-width="0.25">bit pressure/Mpa</text>
<text transform="translate(365.9,486.0) rotate(-90) scale(1,0.89)" font-size="15.6" text-anchor="middle" fill="#3c3f42" stroke="#3c3f42" stroke-width="0.25">drilling speed/(mm.s<tspan dy="-5.5" font-size="10.5">-</tspan><tspan dy="5.5">1)</tspan></text>
<line x1="242.3" y1="212.7" x2="242.3" y2="40.5" stroke="#dcdcdc" stroke-width="1"/>
<line x1="311.8" y1="192.5" x2="311.8" y2="20.3" stroke="#dcdcdc" stroke-width="1"/>
<line x1="381.2" y1="172.2" x2="381.2" y2="0.0" stroke="#dcdcdc" stroke-width="1"/>
<line x1="172.9" y1="189.9" x2="381.2" y2="129.1" stroke="#dcdcdc" stroke-width="1"/>
<line x1="172.9" y1="146.9" x2="381.2" y2="86.1" stroke="#dcdcdc" stroke-width="1"/>
<line x1="172.9" y1="103.9" x2="381.2" y2="43.1" stroke="#dcdcdc" stroke-width="1"/>
<line x1="172.9" y1="60.8" x2="381.2" y2="0.0" stroke="#dcdcdc" stroke-width="1"/>
<line x1="434.7" y1="198.5" x2="434.7" y2="26.3" stroke="#dcdcdc" stroke-width="1"/>
<line x1="488.2" y1="224.8" x2="488.2" y2="52.6" stroke="#dcdcdc" stroke-width="1"/>
<line x1="541.7" y1="251.1" x2="541.7" y2="78.9" stroke="#dcdcdc" stroke-width="1"/>
<line x1="381.2" y1="129.1" x2="541.7" y2="208.1" stroke="#dcdcdc" stroke-width="1"/>
<line x1="381.2" y1="86.1" x2="541.7" y2="165.0" stroke="#dcdcdc" stroke-width="1"/>
<line x1="381.2" y1="43.1" x2="541.7" y2="122.0" stroke="#dcdcdc" stroke-width="1"/>
<line x1="381.2" y1="0.0" x2="541.7" y2="78.9" stroke="#dcdcdc" stroke-width="1"/>
<line x1="242.3" y1="212.7" x2="402.8" y2="291.6" stroke="#dcdcdc" stroke-width="1"/>
<line x1="311.8" y1="192.5" x2="472.3" y2="271.4" stroke="#dcdcdc" stroke-width="1"/>
<line x1="226.4" y1="259.3" x2="434.7" y2="198.5" stroke="#dcdcdc" stroke-width="1"/>
<line x1="279.9" y1="285.6" x2="488.2" y2="224.8" stroke="#dcdcdc" stroke-width="1"/>
<line x1="381.2" y1="172.2" x2="541.7" y2="251.1" stroke="#cdcdcd" stroke-width="1"/>
<line x1="172.9" y1="233.0" x2="381.2" y2="172.2" stroke="#cdcdcd" stroke-width="1"/>
<rect x="174" y="58.4" width="153.5" height="54.1" fill="#ffffff"/>
<circle cx="356.1" cy="100.9" r="2.95" fill="#2343a0"/>
<circle cx="375.8" cy="101.8" r="2.95" fill="#2343a0"/>
<circle cx="384.7" cy="111.7" r="2.95" fill="#2343a0"/>
<circle cx="395.1" cy="114.9" r="2.95" fill="#2343a0"/>
<circle cx="370.7" cy="115.6" r="2.95" fill="#2343a0"/>
<circle cx="360.1" cy="118.7" r="2.95" fill="#2343a0"/>
<circle cx="363.9" cy="117.4" r="2.95" fill="#2343a0"/>
<circle cx="344.0" cy="120.1" r="2.95" fill="#2343a0"/>
<circle cx="346.4" cy="122.9" r="2.95" fill="#2343a0"/>
<circle cx="367.3" cy="125.9" r="2.95" fill="#2343a0"/>
<circle cx="354.6" cy="129.3" r="2.95" fill="#2343a0"/>
<circle cx="337.3" cy="131.4" r="2.95" fill="#2343a0"/>
<circle cx="360.1" cy="134.1" r="2.95" fill="#2343a0"/>
<circle cx="326.7" cy="134.4" r="2.95" fill="#2343a0"/>
<circle cx="319.7" cy="136.5" r="2.95" fill="#2343a0"/>
<circle cx="314.6" cy="138.2" r="2.95" fill="#2343a0"/>
<circle cx="351.2" cy="136.5" r="2.95" fill="#2343a0"/>
<circle cx="349.5" cy="140.3" r="2.95" fill="#2343a0"/>
<circle cx="352.9" cy="142.0" r="2.95" fill="#2343a0"/>
<circle cx="363.5" cy="139.2" r="2.95" fill="#2343a0"/>
<circle cx="337.3" cy="140.7" r="2.95" fill="#2343a0"/>
<circle cx="342.8" cy="142.2" r="2.95" fill="#2343a0"/>
<circle cx="340.6" cy="145.6" r="2.95" fill="#2343a0"/>
<circle cx="333.9" cy="147.5" r="2.95" fill="#2343a0"/>
<circle cx="326.7" cy="149.2" r="2.95" fill="#2343a0"/>
<circle cx="349.5" cy="149.2" r="2.95" fill="#2343a0"/>
<circle cx="353.3" cy="147.9" r="2.95" fill="#2343a0"/>
<circle cx="367.3" cy="147.1" r="2.95" fill="#2343a0"/>
<circle cx="370.7" cy="148.3" r="2.95" fill="#2343a0"/>
<circle cx="374.9" cy="147.5" r="2.95" fill="#2343a0"/>
<circle cx="366.2" cy="147.0" r="2.95" fill="#2343a0"/>
<circle cx="377.5" cy="148.6" r="2.95" fill="#2343a0"/>
<circle cx="367.3" cy="143.8" r="2.95" fill="#2343a0"/>
<circle cx="370.6" cy="144.7" r="2.95" fill="#2343a0"/>
<circle cx="312.7" cy="153.8" r="2.95" fill="#2343a0"/>
<circle cx="333.9" cy="153.8" r="2.95" fill="#2343a0"/>
<circle cx="310.6" cy="163.5" r="2.95" fill="#2343a0"/>
<circle cx="302.1" cy="166.1" r="2.95" fill="#2343a0"/>
<circle cx="319.9" cy="164.0" r="2.95" fill="#2343a0"/>
<circle cx="319.9" cy="166.9" r="2.95" fill="#2343a0"/>
<circle cx="322.0" cy="169.5" r="2.95" fill="#2343a0"/>
<circle cx="314.4" cy="171.2" r="2.95" fill="#2343a0"/>
<circle cx="318.2" cy="174.1" r="2.95" fill="#2343a0"/>
<circle cx="311.0" cy="175.8" r="2.95" fill="#2343a0"/>
<circle cx="334.3" cy="160.2" r="2.95" fill="#2343a0"/>
<circle cx="330.5" cy="164.0" r="2.95" fill="#2343a0"/>
<circle cx="328.8" cy="171.2" r="2.95" fill="#2343a0"/>
<circle cx="342.3" cy="157.6" r="2.95" fill="#2343a0"/>
<circle cx="346.1" cy="156.4" r="2.95" fill="#2343a0"/>
<circle cx="349.1" cy="150.8" r="2.95" fill="#2343a0"/>
<circle cx="354.2" cy="158.5" r="2.95" fill="#2343a0"/>
<circle cx="337.3" cy="168.2" r="2.95" fill="#2343a0"/>
<circle cx="342.3" cy="164.0" r="2.95" fill="#2343a0"/>
<circle cx="347.4" cy="166.9" r="2.95" fill="#2343a0"/>
<circle cx="354.2" cy="172.0" r="2.95" fill="#2343a0"/>
<circle cx="355.9" cy="174.6" r="2.95" fill="#2343a0"/>
<circle cx="342.3" cy="172.9" r="2.95" fill="#2343a0"/>
<circle cx="339.4" cy="177.1" r="2.95" fill="#2343a0"/>
<circle cx="343.2" cy="176.2" r="2.95" fill="#2343a0"/>
<circle cx="333.9" cy="181.5" r="2.95" fill="#2343a0"/>
<circle cx="336.0" cy="187.3" r="2.95" fill="#2343a0"/>
<circle cx="341.5" cy="185.6" r="2.95" fill="#2343a0"/>
<circle cx="341.5" cy="189.8" r="2.95" fill="#2343a0"/>
<circle cx="347.0" cy="183.4" r="2.95" fill="#2343a0"/>
<circle cx="353.3" cy="188.5" r="2.95" fill="#2343a0"/>
<circle cx="302.1" cy="187.7" r="2.95" fill="#2343a0"/>
<circle cx="328.8" cy="195.7" r="2.95" fill="#2343a0"/>
<circle cx="307.8" cy="198.9" r="2.95" fill="#2343a0"/>
<circle cx="332.6" cy="202.9" r="2.95" fill="#2343a0"/>
<circle cx="336.0" cy="201.7" r="2.95" fill="#2343a0"/>
<circle cx="319.6" cy="207.4" r="2.95" fill="#2343a0"/>
<circle cx="346.1" cy="212.2" r="2.95" fill="#2343a0"/>
<circle cx="350.0" cy="217.5" r="2.95" fill="#2343a0"/>
<circle cx="374.1" cy="153.8" r="2.95" fill="#2343a0"/>
<circle cx="375.8" cy="155.9" r="2.95" fill="#2343a0"/>
<circle cx="358.8" cy="155.9" r="2.95" fill="#2343a0"/>
<circle cx="361.8" cy="164.0" r="2.95" fill="#2343a0"/>
<circle cx="365.6" cy="167.4" r="2.95" fill="#2343a0"/>
<circle cx="380.9" cy="175.0" r="2.95" fill="#2343a0"/>
<circle cx="358.4" cy="174.6" r="2.95" fill="#2343a0"/>
<circle cx="377.1" cy="185.6" r="2.95" fill="#2343a0"/>
<circle cx="371.5" cy="170.3" r="2.95" fill="#2343a0"/>
<circle cx="294.0" cy="178.0" r="2.95" fill="#2343a0"/>
<circle cx="272.8" cy="214.8" r="2.95" fill="#2343a0"/>
<circle cx="294.0" cy="224.2" r="2.95" fill="#2343a0"/>
<circle cx="343.0" cy="163.3" r="2.95" fill="#2343a0"/>
<circle cx="354.3" cy="159.6" r="2.95" fill="#2343a0"/>
<circle cx="355.5" cy="132.7" r="2.95" fill="#e31f26"/>
<circle cx="355.5" cy="139.0" r="2.95" fill="#e31f26"/>
<circle cx="330.7" cy="145.8" r="2.95" fill="#e31f26"/>
<circle cx="369.3" cy="131.8" r="2.95" fill="#e31f26"/>
<circle cx="383.2" cy="130.7" r="2.95" fill="#e31f26"/>
<circle cx="392.7" cy="133.1" r="2.95" fill="#e31f26"/>
<circle cx="376.2" cy="139.0" r="2.95" fill="#e31f26"/>
<circle cx="390.2" cy="141.1" r="2.95" fill="#e31f26"/>
<circle cx="386.4" cy="145.8" r="2.95" fill="#e31f26"/>
<circle cx="386.4" cy="148.8" r="2.95" fill="#e31f26"/>
<circle cx="392.7" cy="145.4" r="2.95" fill="#e31f26"/>
<circle cx="351.7" cy="152.1" r="2.95" fill="#e31f26"/>
<circle cx="351.7" cy="155.1" r="2.95" fill="#e31f26"/>
<circle cx="330.7" cy="158.2" r="2.95" fill="#e31f26"/>
<circle cx="348.3" cy="161.9" r="2.95" fill="#e31f26"/>
<circle cx="351.7" cy="164.0" r="2.95" fill="#e31f26"/>
<circle cx="327.3" cy="168.5" r="2.95" fill="#e31f26"/>
<circle cx="344.9" cy="169.5" r="2.95" fill="#e31f26"/>
<circle cx="348.3" cy="171.6" r="2.95" fill="#e31f26"/>
<circle cx="330.7" cy="176.7" r="2.95" fill="#e31f26"/>
<circle cx="327.3" cy="187.0" r="2.95" fill="#e31f26"/>
<circle cx="344.5" cy="184.7" r="2.95" fill="#e31f26"/>
<circle cx="348.3" cy="186.8" r="2.95" fill="#e31f26"/>
<circle cx="344.9" cy="191.1" r="2.95" fill="#e31f26"/>
<circle cx="334.3" cy="194.5" r="2.95" fill="#e31f26"/>
<circle cx="338.1" cy="193.2" r="2.95" fill="#e31f26"/>
<circle cx="355.5" cy="194.0" r="2.95" fill="#e31f26"/>
<circle cx="355.5" cy="197.4" r="2.95" fill="#e31f26"/>
<circle cx="330.5" cy="208.0" r="2.95" fill="#e31f26"/>
<circle cx="333.9" cy="207.1" r="2.95" fill="#e31f26"/>
<circle cx="337.3" cy="206.3" r="2.95" fill="#e31f26"/>
<circle cx="340.6" cy="205.4" r="2.95" fill="#e31f26"/>
<circle cx="344.0" cy="204.6" r="2.95" fill="#e31f26"/>
<circle cx="330.7" cy="217.1" r="2.95" fill="#e31f26"/>
<circle cx="303.0" cy="225.2" r="2.95" fill="#e31f26"/>
<circle cx="361.8" cy="152.5" r="2.95" fill="#e31f26"/>
<circle cx="361.8" cy="155.9" r="2.95" fill="#e31f26"/>
<circle cx="369.0" cy="156.4" r="2.95" fill="#e31f26"/>
<circle cx="369.0" cy="159.3" r="2.95" fill="#e31f26"/>
<circle cx="379.2" cy="153.4" r="2.95" fill="#e31f26"/>
<circle cx="383.4" cy="153.4" r="2.95" fill="#e31f26"/>
<circle cx="386.8" cy="157.2" r="2.95" fill="#e31f26"/>
<circle cx="390.6" cy="156.4" r="2.95" fill="#e31f26"/>
<circle cx="397.4" cy="154.2" r="2.95" fill="#e31f26"/>
<circle cx="359.3" cy="162.3" r="2.95" fill="#e31f26"/>
<circle cx="365.6" cy="163.5" r="2.95" fill="#e31f26"/>
<circle cx="362.2" cy="166.9" r="2.95" fill="#e31f26"/>
<circle cx="367.3" cy="168.2" r="2.95" fill="#e31f26"/>
<circle cx="371.5" cy="168.2" r="2.95" fill="#e31f26"/>
<circle cx="376.2" cy="166.9" r="2.95" fill="#e31f26"/>
<circle cx="379.2" cy="169.1" r="2.95" fill="#e31f26"/>
<circle cx="392.7" cy="161.9" r="2.95" fill="#e31f26"/>
<circle cx="397.4" cy="166.5" r="2.95" fill="#e31f26"/>
<circle cx="400.8" cy="168.6" r="2.95" fill="#e31f26"/>
<circle cx="397.4" cy="175.4" r="2.95" fill="#e31f26"/>
<circle cx="400.8" cy="174.6" r="2.95" fill="#e31f26"/>
<circle cx="399.5" cy="178.4" r="2.95" fill="#e31f26"/>
<circle cx="365.6" cy="175.4" r="2.95" fill="#e31f26"/>
<circle cx="369.9" cy="176.2" r="2.95" fill="#e31f26"/>
<circle cx="373.2" cy="177.1" r="2.95" fill="#e31f26"/>
<circle cx="387.6" cy="178.4" r="2.95" fill="#e31f26"/>
<circle cx="359.7" cy="181.3" r="2.95" fill="#e31f26"/>
<circle cx="363.1" cy="182.6" r="2.95" fill="#e31f26"/>
<circle cx="367.3" cy="181.3" r="2.95" fill="#e31f26"/>
<circle cx="371.5" cy="182.2" r="2.95" fill="#e31f26"/>
<circle cx="375.8" cy="181.3" r="2.95" fill="#e31f26"/>
<circle cx="377.9" cy="183.9" r="2.95" fill="#e31f26"/>
<circle cx="362.2" cy="186.4" r="2.95" fill="#e31f26"/>
<circle cx="366.5" cy="186.8" r="2.95" fill="#e31f26"/>
<circle cx="372.4" cy="191.9" r="2.95" fill="#e31f26"/>
<circle cx="385.1" cy="190.6" r="2.95" fill="#e31f26"/>
<circle cx="360.5" cy="198.3" r="2.95" fill="#e31f26"/>
<circle cx="364.8" cy="198.7" r="2.95" fill="#e31f26"/>
<circle cx="369.0" cy="197.0" r="2.95" fill="#e31f26"/>
<circle cx="362.2" cy="201.7" r="2.95" fill="#e31f26"/>
<circle cx="366.5" cy="200.8" r="2.95" fill="#e31f26"/>
<circle cx="383.4" cy="201.2" r="2.95" fill="#e31f26"/>
<circle cx="369.0" cy="208.4" r="2.95" fill="#e31f26"/>
<circle cx="372.8" cy="210.5" r="2.95" fill="#e31f26"/>
<circle cx="369.9" cy="224.1" r="2.95" fill="#e31f26"/>
<circle cx="373.2" cy="223.6" r="2.95" fill="#e31f26"/>
<circle cx="362.2" cy="226.3" r="2.95" fill="#e31f26"/>
<circle cx="289.0" cy="182.8" r="2.95" fill="#e31f26"/>
<circle cx="278.4" cy="191.9" r="2.95" fill="#e31f26"/>
<circle cx="268.0" cy="195.0" r="2.95" fill="#e31f26"/>
<circle cx="271.4" cy="224.9" r="2.95" fill="#e31f26"/>
<circle cx="263.0" cy="236.7" r="2.95" fill="#e31f26"/>
<circle cx="362.2" cy="152.0" r="2.95" fill="#e31f26"/>
<circle cx="362.2" cy="155.2" r="2.95" fill="#e31f26"/>
<circle cx="369.4" cy="156.4" r="2.95" fill="#e31f26"/>
<circle cx="358.7" cy="162.1" r="2.95" fill="#e31f26"/>
<circle cx="366.2" cy="163.3" r="2.95" fill="#e31f26"/>
<circle cx="348.0" cy="162.1" r="2.95" fill="#e31f26"/>
<circle cx="351.1" cy="164.0" r="2.95" fill="#e31f26"/>
<circle cx="402.9" cy="131.6" r="2.95" fill="#4db85f"/>
<circle cx="395.9" cy="133.5" r="2.95" fill="#4db85f"/>
<circle cx="388.9" cy="135.6" r="2.95" fill="#4db85f"/>
<circle cx="391.9" cy="137.3" r="2.95" fill="#4db85f"/>
<circle cx="381.7" cy="137.3" r="2.95" fill="#4db85f"/>
<circle cx="385.1" cy="139.5" r="2.95" fill="#4db85f"/>
<circle cx="367.7" cy="141.6" r="2.95" fill="#4db85f"/>
<circle cx="371.5" cy="140.7" r="2.95" fill="#4db85f"/>
<circle cx="378.3" cy="144.5" r="2.95" fill="#4db85f"/>
<circle cx="395.7" cy="145.8" r="2.95" fill="#4db85f"/>
<circle cx="382.1" cy="149.2" r="2.95" fill="#4db85f"/>
<circle cx="392.7" cy="149.2" r="2.95" fill="#4db85f"/>
<circle cx="406.7" cy="150.0" r="2.95" fill="#4db85f"/>
<circle cx="410.1" cy="149.6" r="2.95" fill="#4db85f"/>
<circle cx="381.7" cy="150.8" r="2.95" fill="#4db85f"/>
<circle cx="392.3" cy="150.4" r="2.95" fill="#4db85f"/>
<circle cx="402.9" cy="153.0" r="2.95" fill="#4db85f"/>
<circle cx="407.1" cy="152.1" r="2.95" fill="#4db85f"/>
<circle cx="410.5" cy="151.3" r="2.95" fill="#4db85f"/>
<circle cx="413.0" cy="156.4" r="2.95" fill="#4db85f"/>
<circle cx="402.9" cy="158.9" r="2.95" fill="#4db85f"/>
<circle cx="395.7" cy="161.4" r="2.95" fill="#4db85f"/>
<circle cx="406.3" cy="164.4" r="2.95" fill="#4db85f"/>
<circle cx="416.0" cy="167.4" r="2.95" fill="#4db85f"/>
<circle cx="374.9" cy="158.5" r="2.95" fill="#4db85f"/>
<circle cx="378.3" cy="160.2" r="2.95" fill="#4db85f"/>
<circle cx="372.0" cy="162.7" r="2.95" fill="#4db85f"/>
<circle cx="371.5" cy="165.7" r="2.95" fill="#4db85f"/>
<circle cx="382.1" cy="165.2" r="2.95" fill="#4db85f"/>
<circle cx="385.9" cy="164.0" r="2.95" fill="#4db85f"/>
<circle cx="388.9" cy="163.1" r="2.95" fill="#4db85f"/>
<circle cx="385.9" cy="168.2" r="2.95" fill="#4db85f"/>
<circle cx="389.3" cy="169.9" r="2.95" fill="#4db85f"/>
<circle cx="382.1" cy="171.6" r="2.95" fill="#4db85f"/>
<circle cx="386.8" cy="172.0" r="2.95" fill="#4db85f"/>
<circle cx="391.9" cy="174.6" r="2.95" fill="#4db85f"/>
<circle cx="385.5" cy="176.2" r="2.95" fill="#4db85f"/>
<circle cx="361.0" cy="171.2" r="2.95" fill="#4db85f"/>
<circle cx="367.7" cy="172.4" r="2.95" fill="#4db85f"/>
<circle cx="374.9" cy="173.7" r="2.95" fill="#4db85f"/>
<circle cx="361.0" cy="177.1" r="2.95" fill="#4db85f"/>
<circle cx="364.4" cy="179.2" r="2.95" fill="#4db85f"/>
<circle cx="406.3" cy="170.3" r="2.95" fill="#4db85f"/>
<circle cx="413.0" cy="174.6" r="2.95" fill="#4db85f"/>
<circle cx="402.9" cy="177.5" r="2.95" fill="#4db85f"/>
<circle cx="406.3" cy="179.6" r="2.95" fill="#4db85f"/>
<circle cx="392.3" cy="180.5" r="2.95" fill="#4db85f"/>
<circle cx="382.1" cy="181.3" r="2.95" fill="#4db85f"/>
<circle cx="385.9" cy="182.6" r="2.95" fill="#4db85f"/>
<circle cx="382.1" cy="184.7" r="2.95" fill="#4db85f"/>
<circle cx="386.4" cy="185.6" r="2.95" fill="#4db85f"/>
<circle cx="382.1" cy="187.3" r="2.95" fill="#4db85f"/>
<circle cx="371.5" cy="186.8" r="2.95" fill="#4db85f"/>
<circle cx="395.7" cy="185.1" r="2.95" fill="#4db85f"/>
<circle cx="399.5" cy="186.8" r="2.95" fill="#4db85f"/>
<circle cx="403.7" cy="186.8" r="2.95" fill="#4db85f"/>
<circle cx="406.3" cy="185.6" r="2.95" fill="#4db85f"/>
<circle cx="393.6" cy="189.0" r="2.95" fill="#4db85f"/>
<circle cx="397.8" cy="189.8" r="2.95" fill="#4db85f"/>
<circle cx="402.0" cy="189.8" r="2.95" fill="#4db85f"/>
<circle cx="389.3" cy="191.5" r="2.95" fill="#4db85f"/>
<circle cx="394.4" cy="192.3" r="2.95" fill="#4db85f"/>
<circle cx="399.5" cy="192.3" r="2.95" fill="#4db85f"/>
<circle cx="402.9" cy="192.8" r="2.95" fill="#4db85f"/>
<circle cx="385.9" cy="195.3" r="2.95" fill="#4db85f"/>
<circle cx="390.2" cy="196.1" r="2.95" fill="#4db85f"/>
<circle cx="392.7" cy="196.1" r="2.95" fill="#4db85f"/>
<circle cx="361.0" cy="191.9" r="2.95" fill="#4db85f"/>
<circle cx="364.4" cy="191.5" r="2.95" fill="#4db85f"/>
<circle cx="367.7" cy="194.0" r="2.95" fill="#4db85f"/>
<circle cx="374.9" cy="195.3" r="2.95" fill="#4db85f"/>
<circle cx="374.9" cy="201.2" r="2.95" fill="#4db85f"/>
<circle cx="413.9" cy="196.1" r="2.95" fill="#4db85f"/>
<circle cx="389.3" cy="202.5" r="2.95" fill="#4db85f"/>
<circle cx="393.6" cy="201.7" r="2.95" fill="#4db85f"/>
<circle cx="397.8" cy="200.8" r="2.95" fill="#4db85f"/>
<circle cx="402.0" cy="200.0" r="2.95" fill="#4db85f"/>
<circle cx="406.3" cy="201.2" r="2.95" fill="#4db85f"/>
<circle cx="382.1" cy="204.2" r="2.95" fill="#4db85f"/>
<circle cx="418.5" cy="157.9" r="2.95" fill="#4db85f"/>
<circle cx="416.4" cy="167.7" r="2.95" fill="#4db85f"/>
<circle cx="406.4" cy="185.8" r="2.95" fill="#4db85f"/>
<circle cx="403.0" cy="189.2" r="2.95" fill="#4db85f"/>
<circle cx="403.0" cy="193.0" r="2.95" fill="#4db85f"/>
<circle cx="413.5" cy="196.4" r="2.95" fill="#4db85f"/>
<circle cx="416.9" cy="195.2" r="2.95" fill="#4db85f"/>
<circle cx="403.0" cy="199.0" r="2.95" fill="#4db85f"/>
<circle cx="406.4" cy="201.1" r="2.95" fill="#4db85f"/>
<circle cx="400.0" cy="202.4" r="2.95" fill="#4db85f"/>
<circle cx="413.5" cy="208.7" r="2.95" fill="#4db85f"/>
<circle cx="416.9" cy="210.4" r="2.95" fill="#4db85f"/>
<circle cx="413.5" cy="221.4" r="2.95" fill="#4db85f"/>
<circle cx="420.3" cy="222.1" r="2.95" fill="#4db85f"/>
<circle cx="403.4" cy="224.4" r="2.95" fill="#4db85f"/>
<circle cx="406.8" cy="223.3" r="2.95" fill="#4db85f"/>
<circle cx="413.7" cy="233.7" r="2.95" fill="#4db85f"/>
<circle cx="406.8" cy="239.6" r="2.95" fill="#4db85f"/>
<circle cx="358.0" cy="212.2" r="2.95" fill="#4db85f"/>
<circle cx="364.4" cy="210.2" r="2.95" fill="#4db85f"/>
<circle cx="378.3" cy="209.2" r="2.95" fill="#4db85f"/>
<circle cx="381.7" cy="205.8" r="2.95" fill="#4db85f"/>
<circle cx="381.7" cy="214.7" r="2.95" fill="#4db85f"/>
<circle cx="374.9" cy="216.9" r="2.95" fill="#4db85f"/>
<circle cx="373.7" cy="220.2" r="2.95" fill="#4db85f"/>
<circle cx="366.5" cy="222.4" r="2.95" fill="#4db85f"/>
<circle cx="381.7" cy="224.1" r="2.95" fill="#4db85f"/>
<circle cx="392.3" cy="211.4" r="2.95" fill="#4db85f"/>
<circle cx="395.7" cy="210.1" r="2.95" fill="#4db85f"/>
<circle cx="394.4" cy="214.3" r="2.95" fill="#4db85f"/>
<circle cx="394.4" cy="226.6" r="2.95" fill="#4db85f"/>
<circle cx="366.3" cy="234.6" r="2.95" fill="#4db85f"/>
<circle cx="366.3" cy="241.0" r="2.95" fill="#4db85f"/>
<circle cx="390.9" cy="233.8" r="2.95" fill="#4db85f"/>
<circle cx="390.9" cy="239.7" r="2.95" fill="#4db85f"/>
<circle cx="390.9" cy="243.1" r="2.95" fill="#4db85f"/>
<circle cx="397.8" cy="238.0" r="2.95" fill="#4db85f"/>
<circle cx="397.8" cy="241.0" r="2.95" fill="#4db85f"/>
<circle cx="410.1" cy="246.9" r="2.95" fill="#4db85f"/>
<circle cx="413.5" cy="249.0" r="2.95" fill="#4db85f"/>
<circle cx="389.3" cy="252.8" r="2.95" fill="#4db85f"/>
<circle cx="392.7" cy="251.7" r="2.95" fill="#4db85f"/>
<circle cx="346.8" cy="224.9" r="2.95" fill="#4db85f"/>
<circle cx="346.8" cy="237.2" r="2.95" fill="#4db85f"/>
<circle cx="350.6" cy="236.2" r="2.95" fill="#4db85f"/>
<circle cx="290.8" cy="231.8" r="2.95" fill="#4db85f"/>
<circle cx="358.0" cy="265.1" r="2.95" fill="#4db85f"/>
<line x1="172.9" y1="233.0" x2="172.9" y2="60.8" stroke="#858a8c" stroke-width="1.8"/>
<line x1="172.9" y1="233.0" x2="333.4" y2="311.9" stroke="#4a4a4a" stroke-width="1.0"/>
<line x1="333.4" y1="311.9" x2="541.7" y2="251.1" stroke="#4a4a4a" stroke-width="1.0"/>
<line x1="172.9" y1="233.0" x2="167.5" y2="230.4" stroke="#4a4a4a" stroke-width="1"/>
<text transform="translate(164.0,233.8) scale(0.9,1)" font-size="12.2" text-anchor="end" fill="#3c3f42" stroke="#3c3f42" stroke-width="0.2">0</text>
<line x1="172.9" y1="189.9" x2="167.5" y2="187.3" stroke="#4a4a4a" stroke-width="1"/>
<text transform="translate(164.0,190.6) scale(0.9,1)" font-size="12.2" text-anchor="end" fill="#3c3f42" stroke="#3c3f42" stroke-width="0.2">2</text>
<line x1="172.9" y1="146.9" x2="167.5" y2="144.3" stroke="#4a4a4a" stroke-width="1"/>
<text transform="translate(164.0,147.4) scale(0.9,1)" font-size="12.2" text-anchor="end" fill="#3c3f42" stroke="#3c3f42" stroke-width="0.2">4</text>
<line x1="172.9" y1="103.9" x2="167.5" y2="101.2" stroke="#4a4a4a" stroke-width="1"/>
<text transform="translate(164.0,104.2) scale(0.9,1)" font-size="12.2" text-anchor="end" fill="#3c3f42" stroke="#3c3f42" stroke-width="0.2">6</text>
<line x1="172.9" y1="60.8" x2="167.5" y2="58.2" stroke="#4a4a4a" stroke-width="1"/>
<text transform="translate(164.0,61.0) scale(0.9,1)" font-size="12.2" text-anchor="end" fill="#3c3f42" stroke="#3c3f42" stroke-width="0.2">8</text>
<line x1="172.9" y1="233.0" x2="167.1" y2="234.7" stroke="#4a4a4a" stroke-width="1"/>
<text transform="translate(153.2,248.7) scale(0.93,1)" font-size="12.2" text-anchor="middle" fill="#3c3f42" stroke="#3c3f42" stroke-width="0.2">200</text>
<line x1="226.4" y1="259.3" x2="220.6" y2="261.0" stroke="#4a4a4a" stroke-width="1"/>
<text transform="translate(207.0,274.9) scale(0.93,1)" font-size="12.2" text-anchor="middle" fill="#3c3f42" stroke="#3c3f42" stroke-width="0.2">150</text>
<line x1="279.9" y1="285.6" x2="274.1" y2="287.3" stroke="#4a4a4a" stroke-width="1"/>
<text transform="translate(260.4,300.9) scale(0.93,1)" font-size="12.2" text-anchor="middle" fill="#3c3f42" stroke="#3c3f42" stroke-width="0.2">100</text>
<line x1="333.4" y1="311.9" x2="327.6" y2="313.6" stroke="#4a4a4a" stroke-width="1"/>
<text transform="translate(317.0,327.5) scale(0.93,1)" font-size="12.2" text-anchor="middle" fill="#3c3f42" stroke="#3c3f42" stroke-width="0.2">50</text>
<line x1="333.4" y1="311.9" x2="338.8" y2="314.5" stroke="#4a4a4a" stroke-width="1"/>
<text transform="translate(349.9,329.4) scale(0.9,1)" font-size="12.2" text-anchor="middle" fill="#3c3f42" stroke="#3c3f42" stroke-width="0.2">0.4</text>
<line x1="402.8" y1="291.6" x2="408.2" y2="294.3" stroke="#4a4a4a" stroke-width="1"/>
<text transform="translate(419.5,308.8) scale(0.9,1)" font-size="12.2" text-anchor="middle" fill="#3c3f42" stroke="#3c3f42" stroke-width="0.2">0.6</text>
<line x1="472.3" y1="271.4" x2="477.7" y2="274.0" stroke="#4a4a4a" stroke-width="1"/>
<text transform="translate(489.6,288.7) scale(0.9,1)" font-size="12.2" text-anchor="middle" fill="#3c3f42" stroke="#3c3f42" stroke-width="0.2">0.8</text>
<line x1="541.7" y1="251.1" x2="547.1" y2="253.7" stroke="#4a4a4a" stroke-width="1"/>
<text transform="translate(554.4,268.6) scale(0.9,1)" font-size="12.2" text-anchor="middle" fill="#3c3f42" stroke="#3c3f42" stroke-width="0.2">1</text>
<text transform="translate(148.4,146.5) rotate(-90) scale(1,0.92)" font-size="13.2" text-anchor="middle" fill="#3c3f42" stroke="#3c3f42" stroke-width="0.25">drilling speed/(mm.s<tspan dy="-5" font-size="9.5">-</tspan><tspan dy="5">1)</tspan></text>
<text transform="translate(173.9,278.0) rotate(24)" font-size="12.9" text-anchor="start" fill="#3c3f42" stroke="#3c3f42" stroke-width="0.25">rotation speed/(r/min)</text>
<text transform="translate(417.1,324.1) rotate(-13.4)" font-size="12.85" text-anchor="start" fill="#3c3f42" stroke="#3c3f42" stroke-width="0.25">bit pressyre/Mpa</text>
<circle cx="197.7" cy="69.1" r="2.8" fill="#4db85f"/>
<text transform="translate(217.8,74.1) scale(0.91,1)" font-size="11.7" fill="#2a2a2a" stroke="#2a2a2a" stroke-width="0.35">sand and gravel layers</text>
<circle cx="197.7" cy="85.5" r="2.8" fill="#e31f26"/>
<text transform="translate(217.8,90.4) scale(0.91,1)" font-size="11.7" fill="#2a2a2a" stroke="#2a2a2a" stroke-width="0.35">coal seam</text>
<circle cx="197.7" cy="102.0" r="2.8" fill="#2343a0"/>
<text transform="translate(217.8,106.5) scale(0.91,1)" font-size="11.7" fill="#2a2a2a" stroke="#2a2a2a" stroke-width="0.35">rock stratum</text>
</svg>
</body></html>
